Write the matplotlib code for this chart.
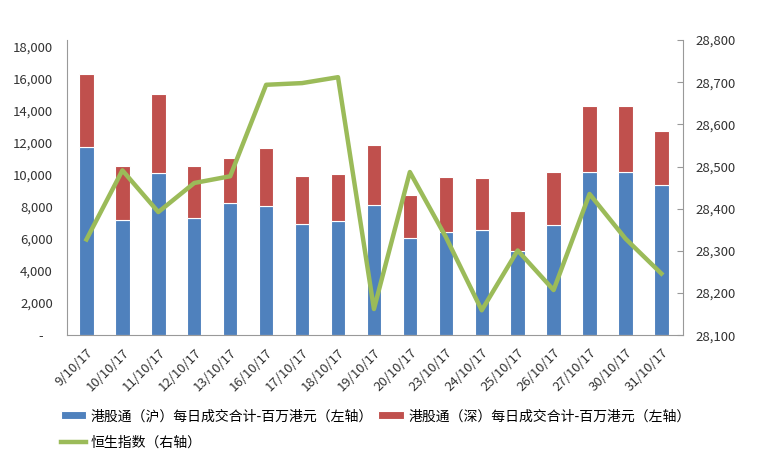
import matplotlib
matplotlib.use("Agg")
from matplotlib import pyplot as plt
from matplotlib.ticker import FuncFormatter

plt.rcParams['font.family'] = ['Noto Sans CJK SC', 'DejaVu Sans']

dates = ['9/10/17', '10/10/17', '11/10/17', '12/10/17', '13/10/17', '16/10/17',
         '17/10/17', '18/10/17', '19/10/17', '20/10/17', '23/10/17', '24/10/17',
         '25/10/17', '26/10/17', '27/10/17', '30/10/17', '31/10/17']
sh = [11750, 7200, 10120, 7310, 8265, 8080, 6970, 7120, 8120,
      6060, 6410, 6580, 5230, 6870, 10160, 10160, 9370]
sz = [4550, 3330, 4930, 3280, 2810, 3580, 2980, 2940, 3760,
      2700, 3440, 3230, 2490, 3290, 4160, 4160, 3390]
hsi = [28327, 28491, 28392, 28461, 28477, 28694, 28698, 28712, 28162,
       28487, 28333, 28159, 28301, 28207, 28435, 28329, 28246]

lab_sh = '港股通（沪）每日成交合计-百万港元（左轴）'
lab_sz = '港股通（深）每日成交合计-百万港元（左轴）'
lab_hsi = '恒生指数（右轴）'

fig = plt.figure(figsize=(7.58, 4.61), dpi=100)
ax = fig.add_axes([0.088, 0.273, 0.813, 0.64])
x = range(len(dates))

b1 = ax.bar(x, sh, width=0.4, color='#4F81BD', edgecolor='white', lw=0.8, label=lab_sh)
b2 = ax.bar(x, sz, width=0.4, bottom=sh, color='#C0504D', edgecolor='white', lw=0.8, label=lab_sz)
ax.set_ylim(0, 18420)
ax.set_xlim(-0.55, len(dates) - 0.4)
ax.set_yticks(range(0, 18001, 2000))
ax.yaxis.set_major_formatter(FuncFormatter(lambda v, p: '-   ' if v == 0 else f'{v:,.0f}'))
ax.tick_params(axis='y', length=0, labelsize=9.5, colors='#333333', pad=10)
ax.set_xticks(list(x))
ax.set_xticklabels(dates, rotation=45, ha='right', rotation_mode='anchor', fontsize=9.5, color='#333333')
ax.tick_params(axis='x', length=0, pad=8)
for s in ['top', 'right']:
    ax.spines[s].set_visible(False)
ax.spines['left'].set_color('#999999')
ax.spines['bottom'].set_color('#999999')

ax2 = ax.twinx()
l1, = ax2.plot(x, hsi, color='#9BBB59', lw=3.2, label=lab_hsi)
ax2.set_ylim(28100, 28800)
ax2.set_yticks(range(28100, 28801, 100))
ax2.yaxis.set_major_formatter(FuncFormatter(lambda v, p: f'{v:,.0f}'))
ax2.tick_params(axis='y', direction='in', length=4, color='#999999', labelsize=9.5, labelcolor='#333333', pad=9)
for s in ['top', 'left', 'bottom']:
    ax2.spines[s].set_visible(False)
ax2.spines['right'].set_color('#999999')

fig.legend([b1, l1, b2], [lab_sh, lab_hsi, lab_sz], ncol=2, loc='upper left',
           bbox_to_anchor=(0.080, 0.112), frameon=False, fontsize=10,
           handlelength=1.85, handleheight=0.5, handletextpad=0.3,
           columnspacing=0.4, labelspacing=0.85, borderaxespad=0, borderpad=0)

fig.savefig('out.png', dpi=100)
